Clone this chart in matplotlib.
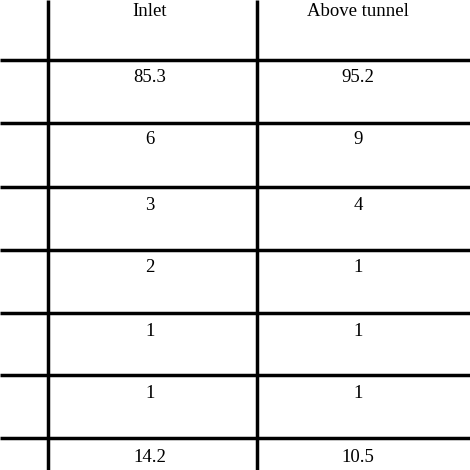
import matplotlib
matplotlib.use("Agg")
import matplotlib.pyplot as plt

columns = ["Inlet", "Above tunnel"]
inlet = ["85.3", "6", "3", "2", "1", "1", "14.2"]
above = ["95.2", "9", "4", "1", "1", "1", "10.5"]

fig = plt.figure(figsize=(4.7, 4.7), dpi=100)
ax = fig.add_axes([0, 0, 1, 1])
ax.set_xlim(0, 470)
ax.set_ylim(470, 0)
ax.axis("off")

hlines = [60, 123, 187, 250, 313, 375, 438]
for y in hlines:
    ax.plot([0, 470], [y, y], color="black", lw=2.5, solid_capstyle="butt")
for x in [48, 257]:
    ax.plot([x, x], [0, 470], color="black", lw=2.5, solid_capstyle="butt")

font = dict(family="Liberation Serif", fontsize=13.5, ha="center", va="center")
xs = [150, 358]
for x, c in zip(xs, columns):
    ax.text(x, 12, c, **font)
row_y = [77, 140, 205, 268, 331, 393, 457]
for y, a, b in zip(row_y, inlet, above):
    ax.text(xs[0], y, a, **font)
    ax.text(xs[1], y, b, **font)

fig.savefig("out.png", dpi=100)
